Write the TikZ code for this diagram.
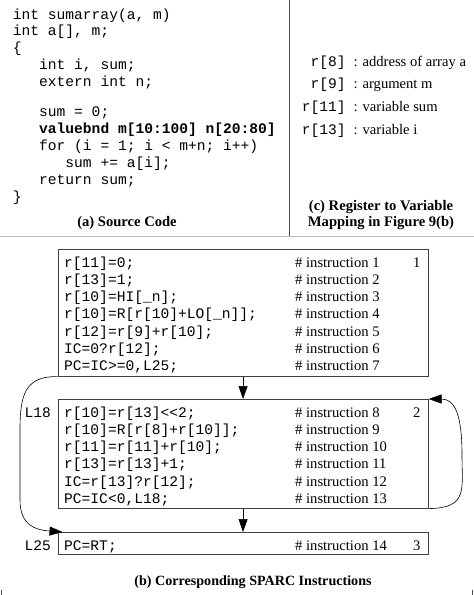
\documentclass[tikz,border=0pt]{standalone}
\usepackage{fontspec}
\setmainfont{Liberation Serif}
\setmonofont{Liberation Mono}
\usepackage{array}
\usetikzlibrary{positioning, calc, arrows.meta}

\newcommand{\codeind}{\phantom{xxx}}

\begin{document}
\begin{tikzpicture}[x=1pt, y=-1pt,
    % Text styles
    srccode/.style={inner sep=0pt, anchor=base west,
        font=\fontsize{14.6}{16.9}\selectfont\ttfamily},
    asm/.style={inner sep=0pt, anchor=base west,
        font=\fontsize{14.6}{17.3}\selectfont},
    regmap/.style={inner sep=0pt, anchor=base west,
        font=\fontsize{14.6}{22.7}\selectfont},
    lbl/.style={inner sep=0pt, anchor=base east,
        font=\fontsize{14.6}{17.3}\selectfont\ttfamily},
    blknum/.style={inner sep=0pt, anchor=base,
        font=\fontsize{14.6}{17.3}\selectfont},
    capt/.style={inner sep=0pt, anchor=base,
        font=\fontsize{14.6}{16.7}\selectfont\bfseries},
    % Block style
    blk/.style={draw=black!75, line width=0.6pt, anchor=north west, inner sep=0pt},
    % Arrow style
    arrow/.style={-{Triangle[length=13pt, width=9pt]}, line width=0.6pt},
    % Frame lines
    sep/.style={draw=black!70, line width=0.6pt},
]
\useasboundingbox (0,0) rectangle (474,595);

% ===== FRAME =====
\draw[sep] (289,0) -- (289,236);
\draw[gray!55, line width=1.6pt] (0,236.5) -- (474,236.5);
\draw[sep] (1,590) -- (1,595);
\draw[sep] (472.5,590) -- (472.5,595);

% ===== (a) SOURCE CODE =====
\node[srccode] (src) at (12.7,19) {\begin{tabular}[t]{@{}l@{}}
int sumarray(a, m)\\
int a[], m;\\
\{\\
\codeind int i, sum;\\
\codeind extern int n;\\[13pt]
\codeind sum = 0;\\
\codeind\textbf{valuebnd m[10:100] n[20:80]}\\
\codeind for (i = 1; i < m+n; i++)\\
\codeind\codeind sum += a[i];\\
\codeind return sum;\\
\}
\end{tabular}};
\node[capt] (cap-a) at (127,226) {(a) Source Code};

% ===== (c) REGISTER MAPPING =====
\node[regmap] (map) at (301.7,66) {\begin{tabular}[t]{@{}>{\ttfamily}r@{\hspace{8pt}}l@{}}
r[8] & : address of array a\\
r[9] & : argument m\\
r[11] & : variable sum\\
r[13] & : variable i
\end{tabular}};
\node[capt] (cap-c) at (381,210) {\begin{tabular}[t]{@{}c@{}}
(c) Register to Variable\\
Mapping in Figure 9(b)
\end{tabular}};

% ===== (b) SPARC INSTRUCTIONS =====

% Block 1
\node[blk, minimum width=370.5pt, minimum height=127pt] (B1) at (57.5,249) {};
\node[asm] (B1-text) at (64,267) {\begin{tabular}[t]{@{}>{\ttfamily}p{231pt}@{}l@{}}
r[11]=0; & \# instruction 1\\
r[13]=1; & \# instruction 2\\
r[10]=HI[\_n]; & \# instruction 3\\
r[10]=R[r[10]+LO[\_n]]; & \# instruction 4\\
r[12]=r[9]+r[10]; & \# instruction 5\\
IC=0?r[12]; & \# instruction 6\\
PC=IC>=0,L25; & \# instruction 7
\end{tabular}};
\node[blknum] (B1-num) at (416.7,267) {1};

% Block 2
\node[blk, minimum width=370.5pt, minimum height=109pt] (B2) at (57.5,399) {};
\node[asm] (B2-text) at (64,417) {\begin{tabular}[t]{@{}>{\ttfamily}p{231pt}@{}l@{}}
r[10]=r[13]<<2; & \# instruction 8\\
r[10]=R[r[8]+r[10]]; & \# instruction 9\\
r[11]=r[11]+r[10]; & \# instruction 10\\
r[13]=r[13]+1; & \# instruction 11\\
IC=r[13]?r[12]; & \# instruction 12\\
PC=IC<0,L18; & \# instruction 13
\end{tabular}};
\node[blknum] (B2-num) at (416.7,417) {2};
\node[lbl] (L18) at (51,417) {L18};

% Block 3
\node[blk, minimum width=370.5pt, minimum height=22pt] (B3) at (57.5,532) {};
\node[asm] (B3-text) at (64,550.5) {\begin{tabular}[t]{@{}>{\ttfamily}p{231pt}@{}l@{}}
PC=RT; & \# instruction 14
\end{tabular}};
\node[blknum] (B3-num) at (416.7,550.5) {3};
\node[lbl] (L25) at (51,550.5) {L25};

% Fall-through arrows
\draw[arrow] (B1.south) -- (B2.north);
\draw[arrow] (B2.south) -- (B3.north);

% Branch to L25
\draw[arrow] (B1.south west) .. controls (25,376) and (20,395) .. (20,430)
    -- (20,500) .. controls (20,525) and (35,530) .. ([xshift=5pt]B3.north west);

% Loop back to L18
\draw[arrow] (B2.south east) .. controls (468,508) and (462,490) .. (462,455)
    .. controls (462,415) and (455,399) .. (B2.north east);

\node[capt, font=\fontsize{14.1}{16.7}\selectfont\bfseries] (cap-b) at (253,585)
    {(b) Corresponding SPARC Instructions};

\end{tikzpicture}
\end{document}
